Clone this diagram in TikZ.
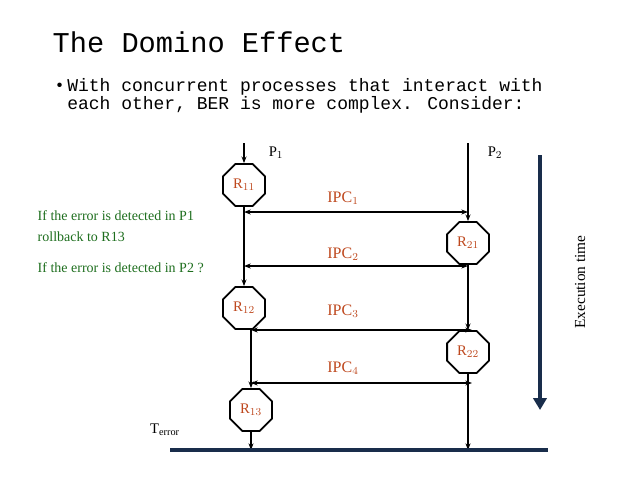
\documentclass[tikz,border=0pt]{standalone}
\usepackage{fontspec}
\setmainfont{Liberation Serif}
\newfontfamily\monof{Liberation Mono}
\usetikzlibrary{shapes.geometric,arrows.meta}
\definecolor{rust}{RGB}{190,72,30}
\definecolor{grn}{RGB}{30,110,30}
\definecolor{navy}{RGB}{25,45,75}
\begin{document}
\begin{tikzpicture}[x=0.75pt,y=-0.75pt,
  oct/.style={regular polygon,regular polygon sides=8,draw,line width=1.4pt,minimum size=34pt,inner sep=0pt,text=rust,font=\fontsize{11}{11}\selectfont},
  flow/.style={line width=1.3pt,-{Stealth[length=5pt]}},
  ipc/.style={line width=1.3pt,{Stealth[length=5pt]}-{Stealth[length=5pt]}},
  ipcl/.style={text=rust,font=\fontsize{12}{12}\selectfont},
  gt/.style={text=grn,anchor=west,font=\fontsize{10.5}{10.5}\selectfont},
  mono/.style={anchor=west,inner sep=0pt,font=\monof\fontsize{13.5}{13.5}\selectfont}]
\useasboundingbox (0,0) rectangle (638,478);
\node[anchor=west,font=\monof\fontsize{21.5}{21.5}\selectfont] (title) at (48,42) {The Domino Effect};
\node[anchor=west,inner sep=0pt,font=\fontsize{14}{14}\selectfont] (bul) at (56,87) {\textbullet};
\node[mono] (b1) at (67,87) {With concurrent processes that interact with};
\node[mono] (b2) at (67,105) {each other, BER is more complex. Consider:};
\node (p1) at (276,153) {\fontsize{11}{11}\selectfont P$_1$};
\node (p2) at (495,153) {\fontsize{11}{11}\selectfont P$_2$};
\coordinate (t1) at (244,143);
\coordinate (t2) at (468,143);
\node[oct] (r11) at (244,185) {R$_{11}$};
\node[oct] (r12) at (244,308) {R$_{12}$};
\node[oct] (r13) at (251,410) {R$_{13}$};
\node[oct] (r21) at (468,243) {R$_{21}$};
\node[oct] (r22) at (468,352) {R$_{22}$};
\coordinate (e1) at (251,450);
\coordinate (e2) at (468,450);
\draw[flow] (t1) -- (r11.north);
\draw[flow] (r11.south) -- (r12.north);
\draw[flow] (r12.south -| r13) -- (r13.north);
\draw[flow] (r13.south) -- (e1);
\draw[flow] (t2) -- (r21.north);
\draw[flow] (r21.south) -- (r22.north);
\draw[flow] (r22.south) -- (e2);
\coordinate (a1) at (244,212); \coordinate (b1e) at (468,212);
\coordinate (a2) at (244,266); \coordinate (b2e) at (468,266);
\coordinate (a3) at (251,330); \coordinate (b3e) at (472,330);
\coordinate (a4) at (251,383); \coordinate (b4e) at (472,383);
\draw[ipc] (a1) -- (b1e);
\draw[ipc] (a2) -- (b2e);
\draw[ipc] (a3) -- (b3e);
\draw[ipc] (a4) -- (b4e);
\node[ipcl] (i1) at (343,198) {IPC$_1$};
\node[ipcl] (i2) at (343,254) {IPC$_2$};
\node[ipcl] (i3) at (343,311) {IPC$_3$};
\node[ipcl] (i4) at (343,368) {IPC$_4$};
\node[gt] (g1) at (33,216) {If the error is detected in P1};
\node[gt] (g2) at (33,237) {rollback to R13};
\node[gt] (g3) at (33,268) {If the error is detected in P2 ?};
\coordinate (l1) at (170,450); \coordinate (l2) at (548,450);
\draw[navy,line width=2.5pt] (l1) -- (l2);
\node (te) at (165,430) {\fontsize{11}{11}\selectfont T$_{\mathrm{error}}$};
\coordinate (x1) at (540,155); \coordinate (x2) at (540,410);
\draw[navy,line width=3pt,-{Triangle[length=9pt,width=10pt]}] (x1) -- (x2);
\node[rotate=90] (et) at (580,282) {\fontsize{11.5}{11.5}\selectfont Execution time};
\end{tikzpicture}
\end{document}
